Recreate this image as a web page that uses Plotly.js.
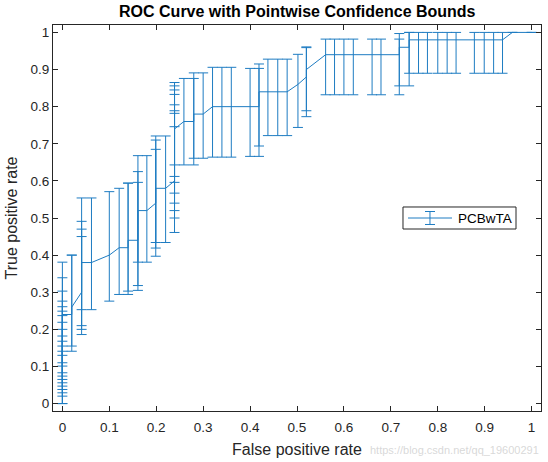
<!DOCTYPE html>
<html>
<head>
<meta charset="utf-8">
<script src="https://cdn.plot.ly/plotly-3.0.1.min.js"></script>
<style>html,body{margin:0;padding:0;background:#fff;}#chart{width:548px;height:462px;}</style>
</head>
<body>
<div id="chart"></div>
<script>
// False positive rate of each point
const fpr = [
  0,0,0,0,0,0,0,0,0,0,0,0,0,
  0.02,0.02,
  0.041,0.041,0.041,0.041,
  0.062,
  0.10,
  0.121,
  0.14,0.14,
  0.161,0.161,0.161,
  0.18,
  0.199,0.199,0.199,
  0.22,
  0.239,0.239,0.239,0.239,0.239,0.239,0.239,0.239,
  0.259,
  0.28,0.28,
  0.30,
  0.32,0.34,0.36,
  0.40,
  0.419,0.419,
  0.438,0.459,0.479,
  0.502,
  0.52,0.52,
  0.561,0.58,0.60,0.62,0.66,0.679,
  0.718,0.718,
  0.739,0.739,
  0.759,0.778,0.80,0.82,0.839,
  0.878,0.899,0.919,0.938,
  0.959,1.0
];
// True positive rate of each point
const tpr = [
  0,0.02,0.04,0.06,0.08,0.10,0.12,0.14,0.16,0.18,0.20,0.22,0.24,
  0.24,0.26,
  0.30,0.32,0.34,0.38,
  0.38,
  0.40,
  0.42,
  0.42,0.44,
  0.44,0.48,0.52,
  0.52,
  0.54,0.56,0.58,
  0.58,
  0.60,0.62,0.64,0.66,0.68,0.70,0.72,0.74,
  0.76,
  0.76,0.78,
  0.78,
  0.80,0.80,0.80,
  0.80,
  0.80,0.84,
  0.84,0.84,0.84,
  0.86,
  0.88,0.90,
  0.94,0.94,0.94,0.94,0.94,0.94,
  0.94,0.96,
  0.96,0.98,
  0.98,0.98,0.98,0.98,0.98,
  0.98,0.98,0.98,0.98,
  1.0,1.0
];
// Lower confidence bound
const lower = [
  0,0,0.02,0.029,0.038,0.047,0.056,0.065,0.074,0.083,0.101,0.11,0.13,
  0.141,0.155,
  0.186,0.20,0.21,0.253,
  0.253,
  0.276,
  0.294,
  0.294,0.303,
  0.305,0.318,0.381,
  0.381,
  0.397,0.419,0.434,
  0.434,
  0.461,0.50,0.52,0.54,0.567,0.596,0.612,0.643,
  0.643,
  0.643,0.661,
  0.661,
  0.664,0.664,0.664,
  0.666,
  0.666,0.694,
  0.722,0.722,0.722,
  0.744,
  0.773,0.789,
  0.832,0.832,0.832,0.832,0.832,0.832,
  0.832,0.856,
  0.856,0.89,
  0.89,0.89,0.89,0.89,0.89,
  0.89,0.89,0.89,0.89,
  1.0,1.0
];
// Upper confidence bound
const upper = [
  0.141,0.155,0.168,0.182,0.20,0.219,0.237,0.249,0.261,0.276,0.303,0.339,0.381,
  0.40,0.40,
  0.45,0.47,0.491,0.554,
  0.554,
  0.571,
  0.58,
  0.594,0.594,
  0.596,0.625,0.668,
  0.668,
  0.685,0.71,0.721,
  0.721,
  0.746,0.782,0.789,0.805,0.833,0.845,0.856,0.865,
  0.876,
  0.876,0.891,
  0.891,
  0.906,0.906,0.906,
  0.903,
  0.903,0.915,
  0.928,0.928,0.928,
  0.941,
  0.959,0.961,
  0.982,0.982,0.982,0.982,0.982,0.982,
  0.982,0.997,
  1.0,1.0,
  1.0,1.0,1.0,1.0,1.0,
  1.0,1.0,1.0,1.0,
  1.0,1.0
];
const xTicks = [0,0.1,0.2,0.3,0.4,0.5,0.6,0.7,0.8,0.9,1];
const xTickText = ['0','0.1','0.2','0.3','0.4','0.5','0.6','0.7','0.8','0.9','1'];
const yTicks = [0,0.1,0.2,0.3,0.4,0.5,0.6,0.7,0.8,0.9,1];
const yTickText = ['0','0.1','0.2','0.3','0.4','0.5','0.6','0.7','0.8','0.9','1'];
const seriesName = 'PCBwTA';

const blue = 'rgb(30,124,194)';
const axisCol = '#262626';
const fontFam = 'Liberation Sans, Arial, Helvetica, sans-serif';

const plus = upper.map((u, i) => u - tpr[i]);
const minus = tpr.map((t, i) => t - lower[i]);

const trace = {
  x: fpr, y: tpr, type: 'scatter', mode: 'lines', name: seriesName,
  showlegend: false,
  line: {color: blue, width: 1},
  error_y: {type: 'data', symmetric: false, array: plus, arrayminus: minus,
            color: blue, thickness: 1, width: 5}
};

const axisCommon = {
  showgrid: false, zeroline: false, showline: true, linecolor: axisCol, linewidth: 1,
  mirror: 'ticks', ticks: 'inside', ticklen: 5, tickwidth: 1, tickcolor: axisCol,
  tickfont: {family: fontFam, size: 13.5, color: axisCol}
};

// Legend box drawn in paper coordinates (MATLAB-style entry with an errorbar glyph)
const lg = {x0: 0.7172, x1: 0.9488, y0: 0.4715, y1: 0.5285,
            lx0: 0.7275, lx1: 0.8176, ly: 0.5, gx: 0.7725, gy0: 0.4832, gy1: 0.5168,
            cx0: 0.7623, cx1: 0.7828, tx: 0.8258};
const shapes = [
  {type: 'rect', xref: 'paper', yref: 'paper', x0: lg.x0, x1: lg.x1, y0: lg.y0, y1: lg.y1,
   line: {color: axisCol, width: 1}, fillcolor: '#fff', layer: 'above'},
  {type: 'line', xref: 'paper', yref: 'paper', x0: lg.lx0, x1: lg.lx1, y0: lg.ly, y1: lg.ly,
   line: {color: blue, width: 1}, layer: 'above'},
  {type: 'line', xref: 'paper', yref: 'paper', x0: lg.gx, x1: lg.gx, y0: lg.gy0, y1: lg.gy1,
   line: {color: blue, width: 1}, layer: 'above'},
  {type: 'line', xref: 'paper', yref: 'paper', x0: lg.cx0, x1: lg.cx1, y0: lg.gy0, y1: lg.gy0,
   line: {color: blue, width: 1}, layer: 'above'},
  {type: 'line', xref: 'paper', yref: 'paper', x0: lg.cx0, x1: lg.cx1, y0: lg.gy1, y1: lg.gy1,
   line: {color: blue, width: 1}, layer: 'above'}
];

const layout = {
  width: 548, height: 462,
  margin: {l: 53, r: 7, t: 25, b: 51},
  paper_bgcolor: '#fff', plot_bgcolor: '#fff',
  title: {text: '<b>ROC Curve with Pointwise Confidence Bounds</b>',
          font: {family: fontFam, size: 16, color: '#000'},
          x: 0.5425, xanchor: 'center', y: 0.976, yanchor: 'middle'},
  xaxis: Object.assign({}, axisCommon, {range: [-0.02, 1.02], tickvals: xTicks, ticktext: xTickText,
          ticklabelstandoff: 4,
          title: {text: 'False positive rate', font: {family: fontFam, size: 16, color: axisCol}, standoff: 9}}),
  yaxis: Object.assign({}, axisCommon, {range: [-0.02, 1.02], tickvals: yTicks, ticktext: yTickText,
          title: {text: 'True positive rate', font: {family: fontFam, size: 16, color: axisCol}, standoff: 8}}),
  showlegend: false,
  shapes: shapes,
  annotations: [
    {xref: 'paper', yref: 'paper', x: lg.tx, y: lg.ly, xanchor: 'left', yanchor: 'middle',
     text: seriesName, showarrow: false,
     font: {family: fontFam, size: 13.5, color: '#000'}},
    {xref: 'paper', yref: 'paper', x: 1.0, y: -0.1, xanchor: 'right', yanchor: 'middle',
     text: 'https://blog.csdn.net/qq_19600291', showarrow: false,
     font: {family: fontFam, size: 11, color: 'rgba(190,190,190,0.6)'}}
  ]
};

Plotly.newPlot('chart', [trace], layout, {displayModeBar: false, staticPlot: true});
</script>
</body>
</html>
